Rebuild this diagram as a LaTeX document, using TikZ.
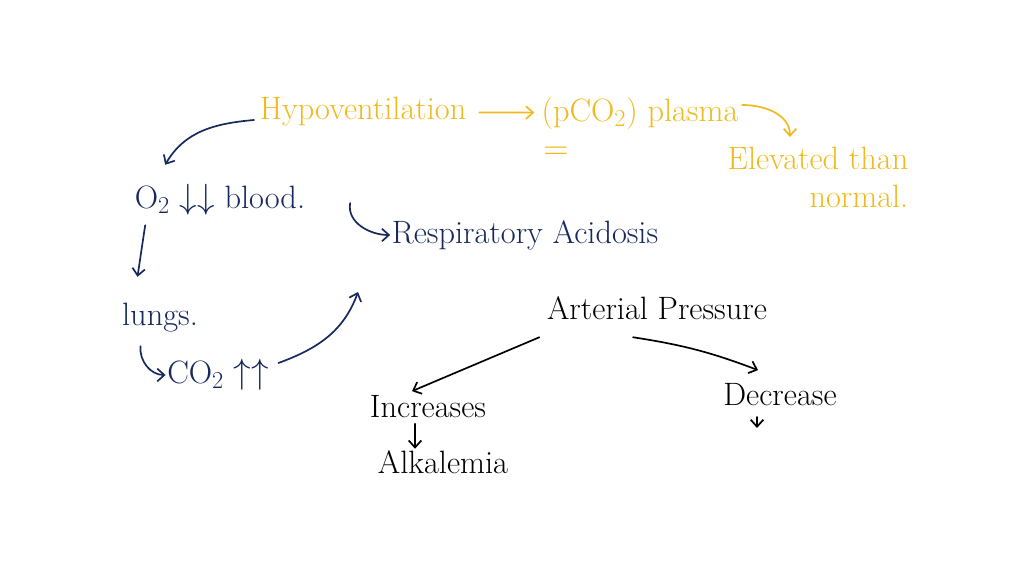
\documentclass[tikz,border=0pt]{standalone}
\usetikzlibrary{calc,arrows.meta}
\definecolor{hypoyellow}{RGB}{240,186,30}
\definecolor{inknavy}{RGB}{22,40,92}
\tikzset{
  note/.style={font=\fontsize{23}{27}\selectfont, inner sep=1pt},
  yel/.style={note, text=hypoyellow},
  navy/.style={note, text=inknavy},
  blk/.style={note, text=black},
  ink/.style={-{Straight Barb[length=5pt,width=9pt]}, line width=1.2pt, line cap=round}
}
\begin{document}
\begin{tikzpicture}[x=0.025cm, y=-0.025cm]
        \useasboundingbox (0,0) rectangle (1024,576);
        % top line
        \node[yel] (hypo) at (363,112) {Hypoventilation};
        \node[yel] (pco) at (640,113) {(pCO$_2$) plasma};
        \node[yel] (eq) at (556,153) {$=$};
        \node[yel, align=right] (elev) at (818,177) {Elevated than\\normal.};
        \draw[ink, hypoyellow, shorten <=8pt, shorten >=4pt] (hypo) -- (pco);
        \draw[ink, hypoyellow] ($(pco.east)+(2,-8)$) to[out=0, in=90] ($(elev.north)+(-28,-8)$);
        % cycle
        \node[navy] (o2) at (220,200) {O$_2$ $\downarrow\downarrow$ blood.};
        \node[navy] (lungs) at (160,318) {lungs.};
        \node[navy] (co2) at (218,375) {CO$_2$ $\uparrow\uparrow$};
        \node[navy] (resp) at (525,235) {Respiratory Acidosis};
        \coordinate (loop) at (358,292);
        \draw[ink, inknavy] ($(hypo.west)+(-4,8)$) to[out=185, in=60] ($(o2.north west)+(32,-18)$);
        \draw[ink, inknavy] ($(o2.south west)+(12,8)$) -- ($(lungs.north west)+(17,-25)$);
        \draw[ink, inknavy] ($(lungs.south west)+(20,12)$) to[out=-95, in=180] (co2.west);
        \draw[ink, inknavy] ($(co2.east)+(8,-12)$) to[out=20, in=-110] (loop);
        \draw[ink, inknavy] ($(resp.west)+(-40,-32)$) to[out=-100, in=180] (resp.west);
        % pressure
        \node[blk] (art) at (657,308) {Arterial Pressure};
        \node[blk] (inc) at (428,407) {Increases};
        \node[blk] (alk) at (443,462) {Alkalemia};
        \node[blk] (dec) at (780,395) {Decrease};
        \coordinate (decend) at (757,428);
        \draw[ink] ($(art.south west)+(-6,16)$) -- ($(inc.north)+(-16,-3)$);
        \draw[ink] ($(art.south)+(-24,16)$) to[bend left=6] ($(dec.north)+(-22,-12)$);
        \draw[ink] ($(inc.south)+(-13,4)$) -- ($(alk.north)+(-28,0)$);
        \draw[ink] ($(decend)+(0,-11)$) -- (decend);
\end{tikzpicture}
\end{document}
